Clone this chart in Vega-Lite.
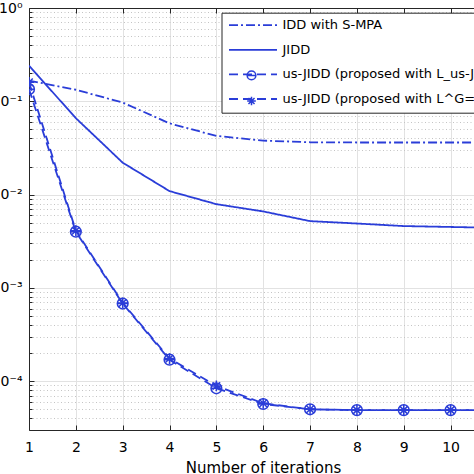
{
  "$schema": "https://vega.github.io/schema/vega-lite/v6.json",
  "width": 445,
  "height": 422,
  "autosize": {"type": "none"},
  "padding": {"left": 29, "top": 8, "right": 0, "bottom": 44},
  "background": "white",
  "config": {"font": "DejaVu Sans", "view": {"stroke": null}},
  "data": {
    "values": [
      {"iteration": 1, "series": "IDD with S-MPA", "error": 0.167},
      {"iteration": 2, "series": "IDD with S-MPA", "error": 0.133},
      {"iteration": 3, "series": "IDD with S-MPA", "error": 0.097},
      {"iteration": 4, "series": "IDD with S-MPA", "error": 0.058},
      {"iteration": 5, "series": "IDD with S-MPA", "error": 0.0426},
      {"iteration": 6, "series": "IDD with S-MPA", "error": 0.0379},
      {"iteration": 7, "series": "IDD with S-MPA", "error": 0.0364},
      {"iteration": 8, "series": "IDD with S-MPA", "error": 0.0362},
      {"iteration": 9, "series": "IDD with S-MPA", "error": 0.0362},
      {"iteration": 10, "series": "IDD with S-MPA", "error": 0.0362},
      {"iteration": 11, "series": "IDD with S-MPA", "error": 0.0362},
      {"iteration": 1, "series": "JIDD", "error": 0.241},
      {"iteration": 2, "series": "JIDD", "error": 0.066},
      {"iteration": 3, "series": "JIDD", "error": 0.022},
      {"iteration": 4, "series": "JIDD", "error": 0.0109},
      {"iteration": 5, "series": "JIDD", "error": 0.0079},
      {"iteration": 6, "series": "JIDD", "error": 0.0066},
      {"iteration": 7, "series": "JIDD", "error": 0.0052},
      {"iteration": 8, "series": "JIDD", "error": 0.0049},
      {"iteration": 9, "series": "JIDD", "error": 0.0046},
      {"iteration": 10, "series": "JIDD", "error": 0.0045},
      {"iteration": 11, "series": "JIDD", "error": 0.0044},
      {"iteration": 1, "series": "us-JIDD (proposed with L_us-JIDD)", "error": 0.135},
      {"iteration": 2, "series": "us-JIDD (proposed with L_us-JIDD)", "error": 0.0040},
      {"iteration": 3, "series": "us-JIDD (proposed with L_us-JIDD)", "error": 0.00068},
      {"iteration": 4, "series": "us-JIDD (proposed with L_us-JIDD)", "error": 0.00017},
      {"iteration": 5, "series": "us-JIDD (proposed with L_us-JIDD)", "error": 0.000084},
      {"iteration": 6, "series": "us-JIDD (proposed with L_us-JIDD)", "error": 0.000057},
      {"iteration": 7, "series": "us-JIDD (proposed with L_us-JIDD)", "error": 0.000050},
      {"iteration": 8, "series": "us-JIDD (proposed with L_us-JIDD)", "error": 0.000049},
      {"iteration": 9, "series": "us-JIDD (proposed with L_us-JIDD)", "error": 0.000049},
      {"iteration": 10, "series": "us-JIDD (proposed with L_us-JIDD)", "error": 0.000049},
      {"iteration": 11, "series": "us-JIDD (proposed with L_us-JIDD)", "error": 0.000049},
      {"iteration": 1, "series": "us-JIDD (proposed with L^G=3_us-JIDD)", "error": 0.160},
      {"iteration": 2, "series": "us-JIDD (proposed with L^G=3_us-JIDD)", "error": 0.0041},
      {"iteration": 3, "series": "us-JIDD (proposed with L^G=3_us-JIDD)", "error": 0.00069},
      {"iteration": 4, "series": "us-JIDD (proposed with L^G=3_us-JIDD)", "error": 0.000175},
      {"iteration": 5, "series": "us-JIDD (proposed with L^G=3_us-JIDD)", "error": 0.000089},
      {"iteration": 6, "series": "us-JIDD (proposed with L^G=3_us-JIDD)", "error": 0.000058},
      {"iteration": 7, "series": "us-JIDD (proposed with L^G=3_us-JIDD)", "error": 0.000050},
      {"iteration": 8, "series": "us-JIDD (proposed with L^G=3_us-JIDD)", "error": 0.000049},
      {"iteration": 9, "series": "us-JIDD (proposed with L^G=3_us-JIDD)", "error": 0.000049},
      {"iteration": 10, "series": "us-JIDD (proposed with L^G=3_us-JIDD)", "error": 0.000049},
      {"iteration": 11, "series": "us-JIDD (proposed with L^G=3_us-JIDD)", "error": 0.000049}
    ]
  },
  "layer": [
    {
      "mark": {"type": "line", "color": "#2a3dd8", "strokeWidth": 1.8, "clip": true},
      "encoding": {
        "x": {
          "field": "iteration", "type": "quantitative",
          "scale": {"domain": [1, 10.5], "nice": false, "zero": false},
          "axis": {
            "orient": "bottom", "values": [1, 2, 3, 4, 5, 6, 7, 8, 9, 10], "format": "d",
            "tickSize": -5, "tickColor": "#262626", "domainColor": "#262626",
            "labelPadding": 15, "labelFontSize": 14, "labelColor": "#000000",
            "labelFlush": false, "labelOverlap": false, "labelBound": false,
            "grid": true, "gridColor": "#e2e2e2", "gridWidth": 1,
            "title": "Number of iterations", "titleFontSize": 15, "titleFontWeight": "normal",
            "titleColor": "#000000", "titleX": 234, "titleY": 42, "titleBaseline": "alphabetic"
          }
        },
        "y": {
          "field": "error", "type": "quantitative",
          "scale": {"type": "log", "domain": [0.00003, 1], "nice": false},
          "axis": {
            "orient": "left", "values": [0.0001, 0.001, 0.01, 0.1, 1],
            "labelExpr": "'10' + (datum.value >= 0.5 ? '⁰' : '⁻' + ['', '¹', '²', '³', '⁴', '⁵'][round(-log(datum.value) / LN10)])",
            "tickSize": -5, "tickColor": "#262626", "domainColor": "#262626",
            "labelPadding": 12, "labelFontSize": 14, "labelColor": "#000000",
            "labelOverlap": false, "labelBound": false, "labelFlush": false,
            "grid": true, "gridColor": "#e2e2e2", "gridWidth": 1, "title": null
          }
        },
        "strokeDash": {
          "field": "series", "type": "nominal",
          "sort": ["IDD with S-MPA", "JIDD", "us-JIDD (proposed with L_us-JIDD)", "us-JIDD (proposed with L^G=3_us-JIDD)"],
          "scale": {"range": [[9, 3, 2, 3], [1, 0], [9, 5], [9, 5]]},
          "legend": {
            "title": null, "orient": "none", "legendX": 192.5, "legendY": 4.7,
            "padding": 6, "rowPadding": 10.6, "symbolType": "M-1,0H8.6", "symbolSize": 100,
            "symbolStrokeColor": "#2a3dd8", "symbolStrokeWidth": 1.8,
            "labelFontSize": 13, "labelOffset": 42, "labelColor": "#000000", "labelLimit": 500,
            "strokeColor": "#262626", "fillColor": "white", "zindex": 0
          }
        }
      }
    },
    {
      "transform": [{"filter": {"field": "series", "oneOf": ["us-JIDD (proposed with L_us-JIDD)", "us-JIDD (proposed with L^G=3_us-JIDD)"]}}],
      "mark": {"type": "point", "filled": false, "color": "#2a3dd8", "strokeWidth": 1.5, "size": 115, "opacity": 1, "clip": true},
      "encoding": {
        "x": {
          "field": "iteration", "type": "quantitative",
          "axis": {
            "orient": "top", "values": [1, 2, 3, 4, 5, 6, 7, 8, 9, 10],
            "tickSize": -5, "tickColor": "#262626", "domainColor": "#262626",
            "labels": false, "grid": false, "title": null
          }
        },
        "y": {
          "field": "error", "type": "quantitative",
          "axis": {
            "orient": "left",
            "values": [0.00004, 0.00005, 0.00006, 0.00007, 0.00008, 0.00009,
                       0.0002, 0.0003, 0.0004, 0.0005, 0.0006, 0.0007, 0.0008, 0.0009,
                       0.002, 0.003, 0.004, 0.005, 0.006, 0.007, 0.008, 0.009,
                       0.02, 0.03, 0.04, 0.05, 0.06, 0.07, 0.08, 0.09,
                       0.2, 0.3, 0.4, 0.5, 0.6, 0.7, 0.8, 0.9],
            "tickSize": -3, "tickColor": "#262626", "domain": false, "labels": false,
            "grid": true, "gridColor": "#c4c4c4", "gridDash": [1, 2.5], "gridWidth": 1, "title": null
          }
        },
        "shape": {
          "field": "series", "type": "nominal",
          "scale": {
            "domain": ["IDD with S-MPA", "JIDD", "us-JIDD (proposed with L_us-JIDD)", "us-JIDD (proposed with L^G=3_us-JIDD)"],
            "range": ["M0,0", "M0,0", "M-1,0A1,1,0,1,1,1,0A1,1,0,1,1,-1,0ZM-1,0L1,0", "M-1,0L1,0M0,-1L0,1M-0.7,-0.7L0.7,0.7M-0.7,0.7L0.7,-0.7"]
          },
          "legend": {
            "title": null, "orient": "none", "legendX": 210, "legendY": 4.7,
            "padding": 6, "rowPadding": 10.6, "symbolSize": 75,
            "symbolStrokeColor": "#2a3dd8", "symbolStrokeWidth": 1.5,
            "labelFontSize": 13, "labelOffset": 4, "labelOpacity": 0, "labelLimit": 500, "zindex": 1
          }
        }
      }
    }
  ],
  "resolve": {"axis": {"x": "independent", "y": "independent"}}
}
